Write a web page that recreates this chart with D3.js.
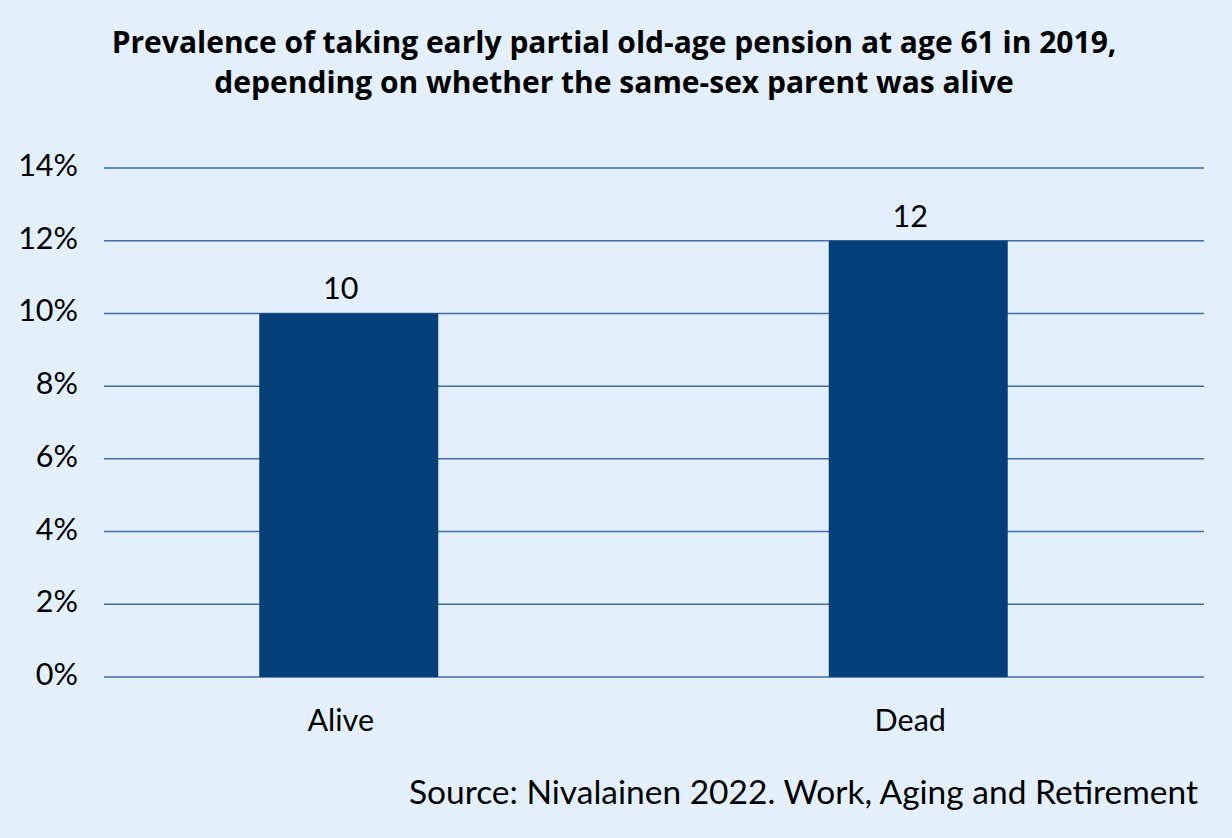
<!DOCTYPE html>
<html>
<head>
<meta charset="utf-8">
<script src="https://cdn.jsdelivr.net/npm/d3@7"></script>
<style>
  html, body { margin: 0; padding: 0; background: #E3F0FC; }
  svg { display: block; }
  text { font-family: Lato, "Open Sans", sans-serif; fill: #000; }
</style>
</head>
<body>
<svg id="chart" width="1232" height="838"></svg>
<script>
const categories = ["Alive", "Dead"];
const values = [10, 12];
const yTicks = [0, 2, 4, 6, 8, 10, 12, 14];
const titleLines = [
  "Prevalence of taking early partial old-age pension at age 61 in 2019,",
  "depending on whether the same-sex parent was alive"
];
const sourceText = "Source: Nivalainen 2022. Work, Aging and Retirement";

const svg = d3.select("#chart");
svg.append("rect").attr("width", 1232).attr("height", 838).attr("fill", "#E3F0FC");

const y = d3.scaleLinear().domain([0, 14]).range([677, 168]);
const x = d3.scaleBand().domain(categories).range([64, 1203]).padding(0);
const barW = 179;
const gridX0 = 104, gridX1 = 1204;

// gridlines
svg.append("g").selectAll("line").data(yTicks).join("line")
  .attr("x1", gridX0).attr("x2", gridX1)
  .attr("y1", d => y(d)).attr("y2", d => y(d))
  .attr("stroke", "#3F6FA6").attr("stroke-width", 1.5);

// y tick labels
svg.append("g").selectAll("text").data(yTicks).join("text")
  .attr("x", 78).attr("y", d => y(d) + 8)
  .attr("text-anchor", "end")
  .attr("font-size", 30.5)
  .text(d => d + "%");

// bars
svg.append("g").selectAll("rect").data(values).join("rect")
  .attr("x", (d, i) => x(categories[i]) + x.bandwidth() / 2 - barW / 2)
  .attr("width", barW)
  .attr("y", d => y(d))
  .attr("height", d => y(0) - y(d))
  .attr("fill", "#053F7A");

// value labels
svg.append("g").selectAll("text").data(values).join("text")
  .attr("x", (d, i) => x(categories[i]) + x.bandwidth() / 2 - 8)
  .attr("y", d => y(d) - 14)
  .attr("text-anchor", "middle")
  .attr("font-size", 30.5)
  .text(d => d);

// category labels
svg.append("g").selectAll("text").data(categories).join("text")
  .attr("x", d => x(d) + x.bandwidth() / 2 - 8)
  .attr("y", 731)
  .attr("text-anchor", "middle")
  .attr("font-size", 30.5)
  .text(d => d);

// title
svg.append("g").selectAll("text").data(titleLines).join("text")
  .attr("x", 614)
  .attr("y", (d, i) => 53 + i * 40)
  .attr("text-anchor", "middle")
  .style("font-family", "'Open Sans', Lato, sans-serif")
  .attr("font-size", 30)
  .attr("font-weight", "bold")
  .text(d => d);

// source
svg.append("text")
  .attr("x", 1198).attr("y", 804)
  .attr("text-anchor", "end")
  .attr("font-size", 33.5)
  .text(sourceText);
</script>
</body>
</html>
